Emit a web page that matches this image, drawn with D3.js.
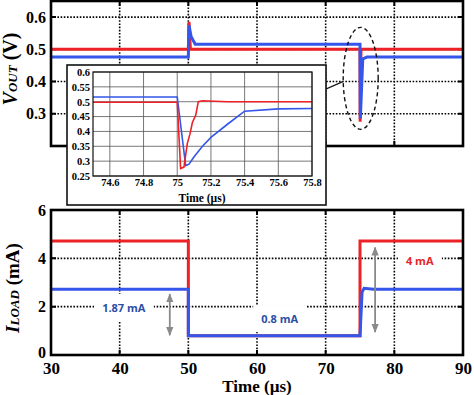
<!DOCTYPE html>
<html>
<head>
<meta charset="utf-8">
<script src="https://cdn.jsdelivr.net/npm/d3@7"></script>
<style>
  body { margin: 0; background: #fff; }
  svg { display: block; }
</style>
</head>
<body>
<div id="chart"></div>
<script>
// ticks
const timeTicks = [30, 40, 50, 60, 70, 80, 90];
const voutTicks = [0.3, 0.4, 0.5, 0.6];
const iloadTicks = [0, 2, 4, 6];
const zoomTimeTicks = [74.6, 74.8, 75, 75.2, 75.4, 75.6, 75.8];
const zoomVoutTicks = [0.25, 0.3, 0.35, 0.4, 0.45, 0.5, 0.55, 0.6];

// VOUT, full run (time us, volts)
const voutRed = [[30, 0.5], [50, 0.5], [50.1, 0.585], [50.3, 0.5], [75, 0.5], [75.02, 0.275], [75.1, 0.45], [75.15, 0.5], [90, 0.5]];
const voutBlue = [[30, 0.476], [50, 0.476], [50.1, 0.575], [50.4, 0.54], [51, 0.516], [75, 0.516], [75.05, 0.285], [75.4, 0.47], [76, 0.476], [90, 0.476]];

// VOUT, zoom around the 75 us step
const zoomRed = [[74.5, 0.498], [75.0, 0.498], [75.02, 0.275], [75.04, 0.28], [75.05, 0.32], [75.06, 0.36], [75.075, 0.39],
  [75.09, 0.43], [75.11, 0.455], [75.125, 0.5], [75.15, 0.503], [75.3, 0.5], [75.8, 0.5]];
const zoomBlue = [[74.5, 0.516], [75.0, 0.516], [75.05, 0.285], [75.07, 0.29], [75.1, 0.315], [75.15, 0.35], [75.2, 0.38],
  [75.3, 0.425], [75.4, 0.468], [75.6, 0.476], [75.8, 0.477]];

// load current (mA)
const iloadRed = [[30, 4.72], [50, 4.72], [50, 0.8], [75, 0.8], [75, 4.72], [90, 4.72]];
const iloadBlue = [[30, 2.72], [50, 2.72], [50, 0.8], [75, 0.8], [75.3, 2.6], [75.6, 2.76], [77, 2.72], [90, 2.72]];

const labels = [
  { t: 40.6, v: 1.94, text: "1.87 mA", color: "#2a4ea6" },
  { t: 63.3, v: 1.48, text: "0.8 mA", color: "#2a4ea6" },
  { t: 83.7, v: 3.88, text: "4 mA", color: "#e4262a" }
];
const spans = [[47.3, 2.52, 0.82], [77.2, 4.45, 0.95]];

const RED = "#ec2227", BLUE = "#3456ea";
const serif = "'Liberation Serif', 'Times New Roman', serif";

const svg = d3.select("#chart").append("svg").attr("width", 474).attr("height", 395);

const defs = svg.append("defs");
defs.append("marker").attr("id", "gh").attr("viewBox", "0 0 10 10").attr("refX", 9).attr("refY", 5)
  .attr("markerWidth", 5).attr("markerHeight", 5).attr("orient", "auto-start-reverse")
  .append("path").attr("d", "M0,1L10,5L0,9z").attr("fill", "#8a8a8a");
defs.append("marker").attr("id", "bh").attr("viewBox", "0 0 10 10").attr("refX", 9).attr("refY", 5)
  .attr("markerWidth", 6).attr("markerHeight", 6).attr("orient", "auto")
  .append("path").attr("d", "M0,1L10,5L0,9z").attr("fill", "#111");

const x = d3.scaleLinear().domain([30, 90]).range([51, 463]);
const yTop = d3.scaleLinear().domain([0.2, 0.65]).range([146, 1]);
const yBot = d3.scaleLinear().domain([0, 6]).range([355, 210]);

function panel(y, yTicks, fmt) {
  const g = svg.append("g");
  const [x0, x1] = x.range(), [y0, y1] = y.range();
  // dotted grid
  g.selectAll(".gx").data(timeTicks.slice(1, -1)).enter().append("line")
    .attr("x1", d => x(d)).attr("x2", d => x(d)).attr("y1", y1).attr("y2", y0)
    .attr("stroke", "#000").attr("stroke-width", 1.6).attr("stroke-dasharray", "1.6,1.6");
  const inner = yTicks.filter(d => y(d) > y1 + 2 && y(d) < y0 - 2);
  g.selectAll(".gy").data(inner).enter().append("line")
    .attr("x1", x0).attr("x2", x1).attr("y1", d => y(d)).attr("y2", d => y(d))
    .attr("stroke", "#000").attr("stroke-width", 1.6).attr("stroke-dasharray", "1.6,1.6");
  // solid ticks inward
  g.selectAll(".ty").data(inner).enter().append("path")
    .attr("d", d => `M${x0},${y(d)}h5M${x1},${y(d)}h-5`).attr("stroke", "#000").attr("stroke-width", 2);
  g.selectAll(".tx").data(timeTicks.slice(1, -1)).enter().append("path")
    .attr("d", d => `M${x(d)},${y0}v-5M${x(d)},${y1}v5`).attr("stroke", "#000").attr("stroke-width", 2);
  g.selectAll(".ly").data(yTicks).enter().append("text")
    .attr("x", x0 - 5).attr("y", d => y(d)).attr("dy", d => d === 0 ? "0.2em" : "0.35em").attr("text-anchor", "end")
    .attr("font-family", serif).attr("font-weight", "bold").attr("font-size", 16).text(fmt);
  return g;
}

function frame(y) {
  const [x0, x1] = x.range(), [y0, y1] = y.range();
  svg.append("rect").attr("x", x0).attr("y", y1).attr("width", x1 - x0).attr("height", y0 - y1)
    .attr("fill", "none").attr("stroke", "#000").attr("stroke-width", 2.6);
}

// ---------- top panel ----------
panel(yTop, voutTicks, d3.format(".1f"));
const lineTop = d3.line().x(d => x(d[0])).y(d => yTop(d[1]));
svg.append("path").datum(voutRed).attr("d", lineTop).attr("fill", "none").attr("stroke", RED).attr("stroke-width", 3);
svg.append("path").datum(voutBlue).attr("d", lineTop).attr("fill", "none").attr("stroke", BLUE).attr("stroke-width", 3);
frame(yTop);

// ellipse + pointer
svg.append("ellipse").attr("cx", x(75.1)).attr("cy", yTop(0.41)).attr("rx", 17.5).attr("ry", 51)
  .attr("fill", "none").attr("stroke", "#111").attr("stroke-width", 1.4).attr("stroke-dasharray", "4,3");
svg.append("line").attr("x1", x(72.5)).attr("y1", yTop(0.4)).attr("x2", 317).attr("y2", 93)
  .attr("stroke", "#111").attr("stroke-width", 1.3).attr("marker-end", "url(#bh)");

// y label top
const vl = svg.append("text").attr("transform", "translate(17,69) rotate(-90)").attr("text-anchor", "middle")
  .attr("font-family", serif).attr("font-weight", "bold").attr("font-size", 20);
vl.append("tspan").attr("font-style", "italic").text("V");
vl.append("tspan").attr("font-style", "italic").attr("font-size", 13).text("OUT");
vl.append("tspan").text(" (V)");

// ---------- inset ----------
svg.append("rect").attr("x", 67).attr("y", 65).attr("width", 259).attr("height", 140)
  .attr("fill", "#fff").attr("stroke", "#111").attr("stroke-width", 1.6);
const xi = d3.scaleLinear().domain([74.5, 75.8]).range([93, 312]);
const yi = d3.scaleLinear().domain([0.25, 0.6]).range([176, 72]);
const inset = svg.append("g");
inset.selectAll(".igx").data(zoomTimeTicks).enter().append("line")
  .attr("x1", d => xi(d)).attr("x2", d => xi(d)).attr("y1", 72).attr("y2", 176)
  .attr("stroke", "#555").attr("stroke-width", 0.8);
inset.selectAll(".igy").data(zoomVoutTicks).enter().append("line")
  .attr("x1", 93).attr("x2", 312).attr("y1", d => yi(d)).attr("y2", d => yi(d))
  .attr("stroke", "#555").attr("stroke-width", 0.8);
inset.append("g").attr("transform", "translate(0,176)")
  .call(d3.axisBottom(xi).tickValues(zoomTimeTicks).tickFormat(d3.format("")).tickSize(0).tickPadding(3))
  .call(g => g.select(".domain").remove())
  .selectAll("text").attr("font-family", serif).attr("font-weight", "bold").attr("font-size", 10.5).attr("fill", "#000");
inset.append("g").attr("transform", "translate(93,0)")
  .call(d3.axisLeft(yi).tickValues(zoomVoutTicks).tickFormat(d3.format("")).tickSize(0).tickPadding(3))
  .call(g => g.select(".domain").remove())
  .selectAll("text").attr("font-family", serif).attr("font-weight", "bold").attr("font-size", 10.5).attr("fill", "#000");
const lineIn = d3.line().x(d => xi(d[0])).y(d => yi(d[1]));
inset.append("path").datum(zoomBlue).attr("d", lineIn).attr("fill", "none").attr("stroke", BLUE).attr("stroke-width", 1.6);
inset.append("path").datum(zoomRed).attr("d", lineIn).attr("fill", "none").attr("stroke", RED).attr("stroke-width", 1.6);
inset.append("rect").attr("x", 93).attr("y", 72).attr("width", 219).attr("height", 104)
  .attr("fill", "none").attr("stroke", "#111").attr("stroke-width", 1.2);
inset.append("text").attr("x", 202).attr("y", 202).attr("text-anchor", "middle")
  .attr("font-family", serif).attr("font-weight", "bold").attr("font-size", 11.5).text("Time (µs)");

// ---------- bottom panel ----------
panel(yBot, iloadTicks, d3.format("d"));

// label backgrounds break the grid, as in the source figure
const ann = svg.append("g").selectAll("g").data(labels).enter().append("g");
ann.append("rect").attr("fill", "#fff");
ann.append("text")
  .attr("x", d => x(d.t)).attr("y", d => yBot(d.v)).attr("dy", "0.35em").attr("text-anchor", "middle")
  .attr("font-family", "'Open Sans', sans-serif").attr("font-weight", "bold").attr("font-size", 11)
  .attr("fill", d => d.color).text(d => d.text);
ann.each(function () {
  const b = d3.select(this).select("text").node().getBBox();
  d3.select(this).select("rect").attr("x", b.x - 8).attr("y", b.y - 6).attr("width", b.width + 16).attr("height", b.height + 12);
});

const lineBot = d3.line().x(d => x(d[0])).y(d => yBot(d[1]));
svg.append("path").datum(iloadRed).attr("d", lineBot).attr("fill", "none").attr("stroke", RED).attr("stroke-width", 3);
svg.append("path").datum(iloadBlue).attr("d", lineBot).attr("fill", "none").attr("stroke", BLUE).attr("stroke-width", 3);
frame(yBot);

svg.selectAll(".span").data(spans).enter().append("line")
  .attr("x1", d => x(d[0])).attr("x2", d => x(d[0])).attr("y1", d => yBot(d[1])).attr("y2", d => yBot(d[2]))
  .attr("stroke", "#8a8a8a").attr("stroke-width", 1.8)
  .attr("marker-start", "url(#gh)").attr("marker-end", "url(#gh)");

svg.append("g").attr("transform", "translate(0,355)")
  .call(d3.axisBottom(x).tickValues(timeTicks).tickSize(0).tickPadding(7))
  .call(g => g.select(".domain").remove())
  .selectAll("text").attr("font-family", serif).attr("font-weight", "bold").attr("font-size", 17).attr("fill", "#000");

svg.append("text").attr("x", 257).attr("y", 392).attr("text-anchor", "middle")
  .attr("font-family", serif).attr("font-weight", "bold").attr("font-size", 17).text("Time (µs)");

const il = svg.append("text").attr("transform", "translate(19,288) rotate(-90)").attr("text-anchor", "middle")
  .attr("font-family", serif).attr("font-weight", "bold").attr("font-size", 19);
il.append("tspan").attr("font-style", "italic").text("I");
il.append("tspan").attr("font-style", "italic").attr("font-size", 13).text("LOAD");
il.append("tspan").text(" (mA)");
</script>
</body>
</html>
